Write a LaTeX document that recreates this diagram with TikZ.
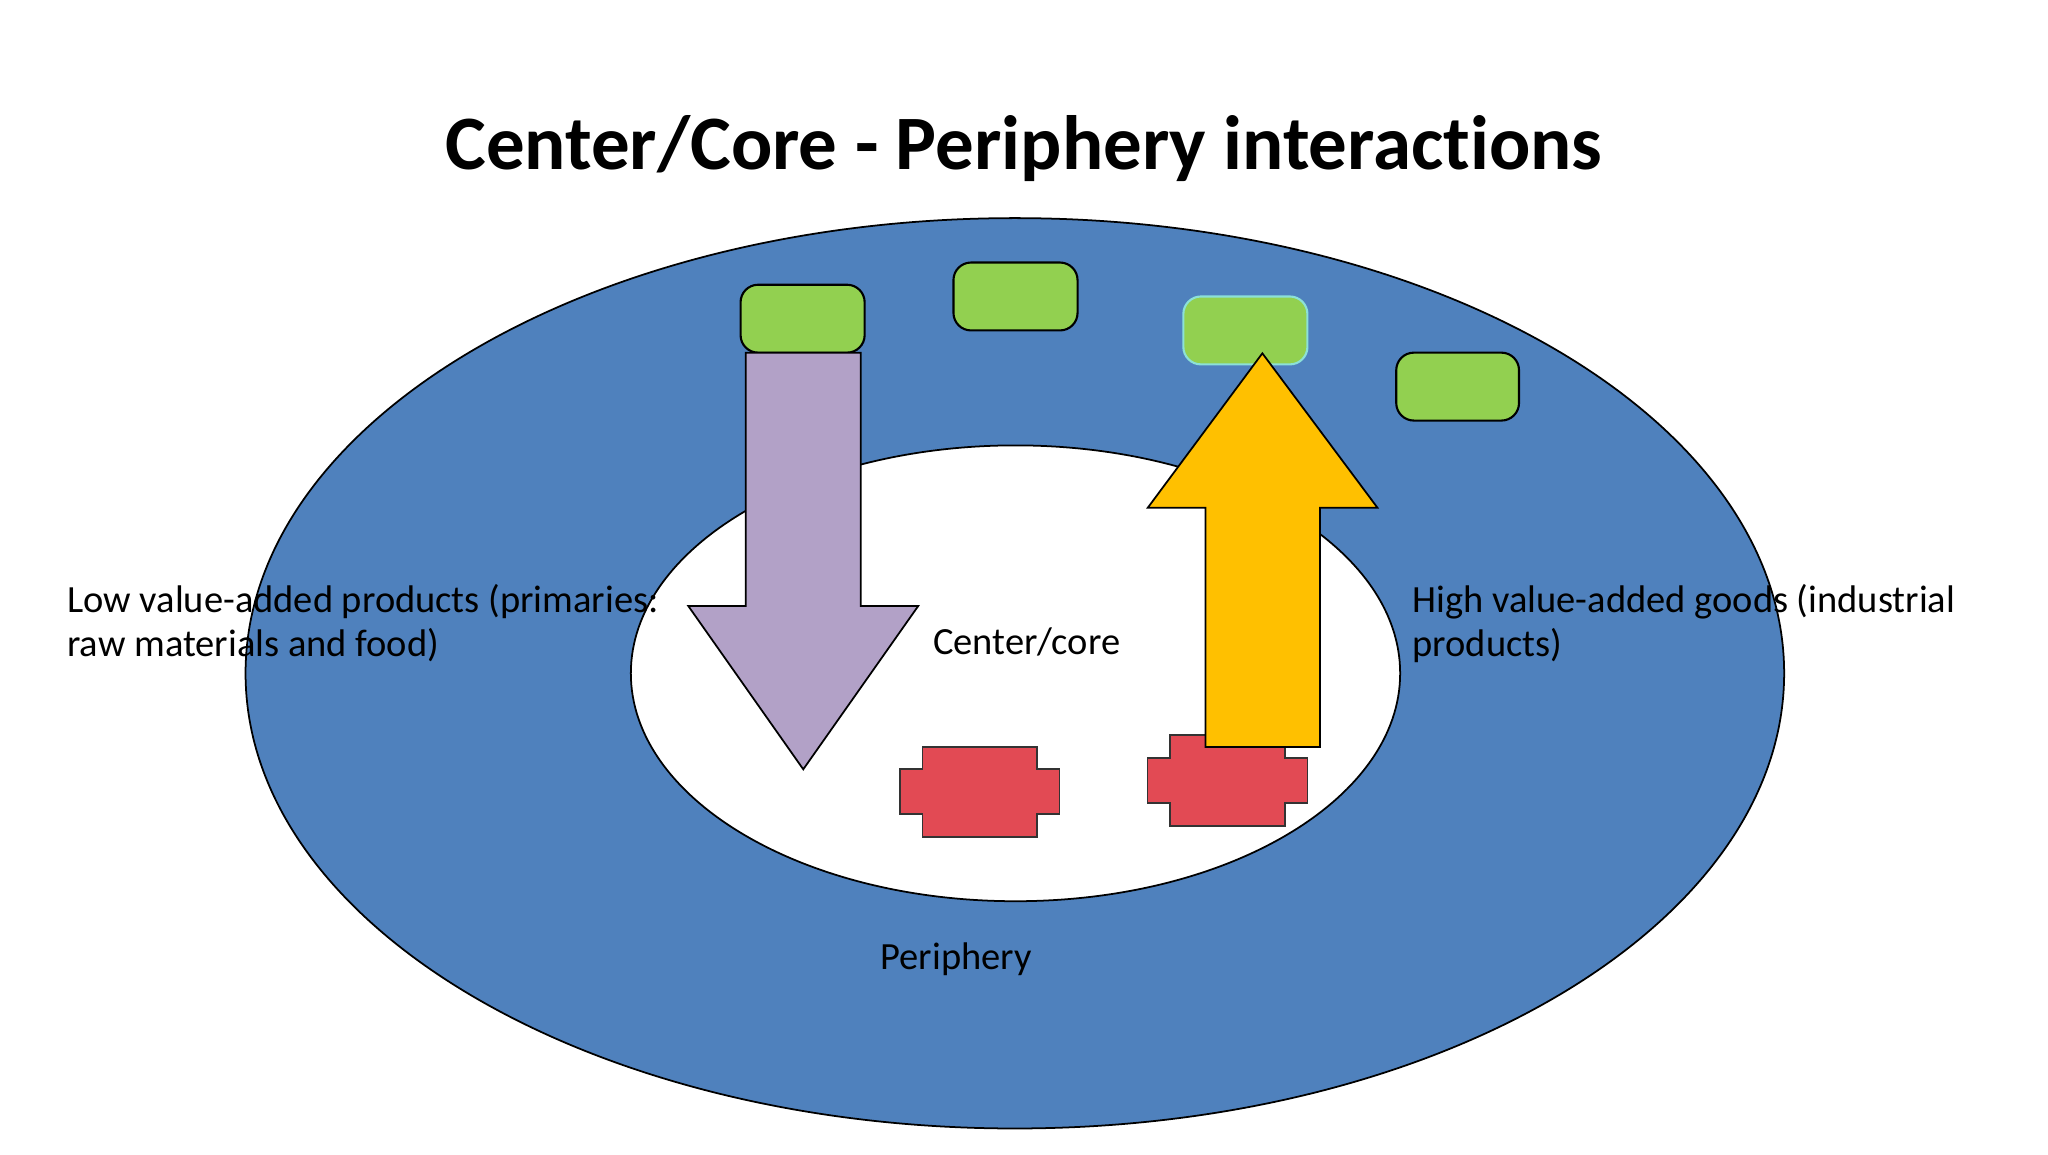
\documentclass[tikz,border=0pt]{standalone}
\usepackage{fontspec}
\setmainfont{Carlito}[Ligatures=CommonOff]
\definecolor{ringblue}{RGB}{79,129,189}
\definecolor{boxgreen}{RGB}{146,208,80}
\definecolor{arrpurple}{RGB}{178,161,199}
\definecolor{arryellow}{RGB}{255,192,0}
\definecolor{crossred}{RGB}{226,74,84}
\definecolor{aqua}{RGB}{140,225,215}
\begin{document}
\begin{tikzpicture}[x=0.013061cm,y=-0.013061cm,
  ring/.style={draw=black,line width=0.5pt},
  gbox/.style={draw=black,fill=boxgreen,rounded corners=5pt,line width=0.6pt},
  arrowshape/.style={draw=black,line width=0.5pt,line join=miter},
  redcross/.style={draw=black!80,fill=crossred,line width=0.5pt},
  body/.style={font=\fontsize{10.95}{12.6}\selectfont,inner sep=0pt,align=left}]
\useasboundingbox[fill=white] (0,0) rectangle (1568,884);
% rings
\path[ring,fill=ringblue] (777,515.5) ellipse [x radius=589,y radius=348.5];
\path[ring,fill=white] (777.5,515.5) ellipse [x radius=294.5,y radius=174.5];
% green boxes
\path[gbox] (567,218) rectangle (662,270);
\path[gbox] (730,201) rectangle (825,253);
\path[gbox,draw=aqua] (906,227) rectangle (1001,279);
\path[gbox] (1069,270) rectangle (1163,322);
% red crosses
\path[redcross] (706.2,571.7) -- (794,571.7) -- (794,588.8) -- (811.1,588.8) -- (811.1,623.5) -- (794,623.5) -- (794,640.7) -- (706.2,640.7) -- (706.2,623.5) -- (689.1,623.5) -- (689.1,588.8) -- (706.2,588.8) -- cycle;
\path[redcross] (895.9,562.8) -- (984,562.8) -- (984,580.6) -- (1001,580.6) -- (1001,614.8) -- (984,614.8) -- (984,632.2) -- (895.9,632.2) -- (895.9,614.8) -- (878.5,614.8) -- (878.5,580.6) -- (895.9,580.6) -- cycle;
% purple down arrow
\path[arrowshape,fill=arrpurple] (571,270) -- (659,270) -- (659,464) -- (703,464) -- (615,589) -- (527,464) -- (571,464) -- cycle;
% yellow up arrow
\path[arrowshape,fill=arryellow] (923,572) -- (1010.7,572) -- (1010.7,388.7) -- (1054.6,388.7) -- (966.5,270.5) -- (878.8,388.7) -- (923,388.7) -- cycle;
% texts
\node[font=\fontsize{21.9}{26}\selectfont\bfseries,anchor=base] (title) at (784,130) {Center/Core - Periphery interactions};
\node[body,anchor=north west] (low) at (51,447) {Low value-added products (primaries:\\raw materials and food)};
\node[body,anchor=north west] (high) at (1081,447) {High value-added goods (industrial\\products)};
\node[body,anchor=base] (core) at (786,501) {Center/core};
\node[body,anchor=base] (peri) at (732,742) {Periphery};
\end{tikzpicture}
\end{document}
